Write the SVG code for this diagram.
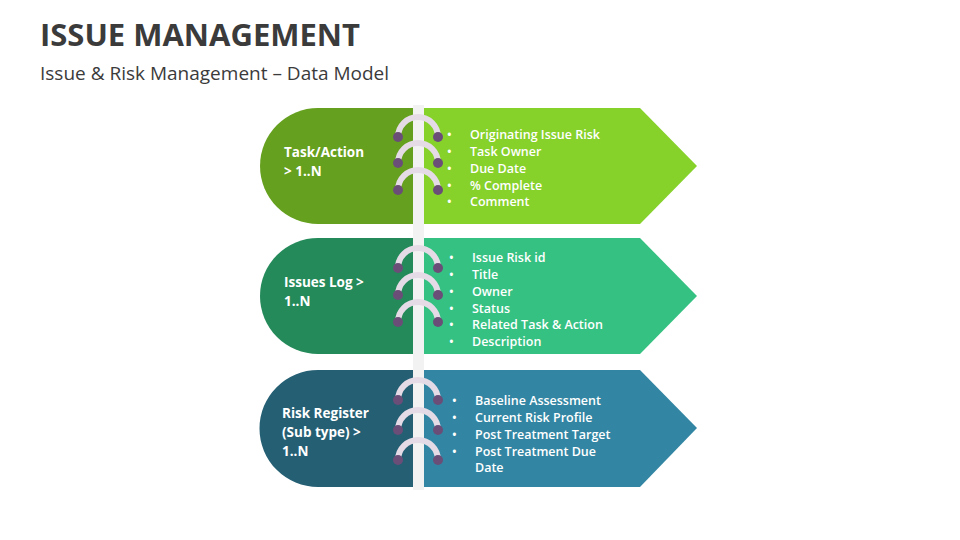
<svg xmlns="http://www.w3.org/2000/svg" width="960" height="540" viewBox="0 0 960 540">
<style>
.t{font-family:"Open Sans","Liberation Sans",sans-serif;fill:#fff;font-weight:600}
.l{font-size:13.5px;font-weight:700}
.b{font-size:12.5px}
.arc{fill:none;stroke:#e5dbe6;stroke-width:6;stroke-linecap:round}
.dot{fill:#6a4e78}
</style>
<defs>
<g id="ring"><path class="arc" d="M-20,0 A20,20 0 0 1 20,0"/><circle class="dot" cx="-20" cy="0" r="5"/><circle class="dot" cx="20" cy="0" r="5"/></g>
</defs>
<rect width="960" height="540" fill="#fff"/>
<text x="40" y="46" font-family="Open Sans,Liberation Sans,sans-serif" font-weight="700" font-size="31" fill="#3b3b3b">ISSUE MANAGEMENT</text>
<text x="40" y="80" font-family="Open Sans,Liberation Sans,sans-serif" font-size="19" fill="#3b3b3b">Issue &amp; Risk Management – Data Model</text>
<rect x="413" y="105" width="11" height="385" fill="#f2f2f2"/>
<g id="row1">
<path d="M413,108 H318 A58,58 0 0 0 318,224 H413 Z" fill="#65a01e"/>
<path d="M424,108 H640 L697,166 L640,224 H424 Z" fill="#86d12a"/>
<text class="t l" x="284" y="157">Task/Action</text><text class="t l" x="284" y="176">&gt; 1..N</text>
<use href="#ring" x="418" y="137"/><use href="#ring" x="418" y="163"/><use href="#ring" x="418" y="190"/>
<g class="t b"><text x="447" y="139">•</text><text x="470" y="139">Originating Issue Risk</text>
<text x="447" y="156">•</text><text x="470" y="156">Task Owner</text>
<text x="447" y="173">•</text><text x="470" y="173">Due Date</text>
<text x="447" y="190">•</text><text x="470" y="190">% Complete</text>
<text x="447" y="206">•</text><text x="470" y="206">Comment</text></g>
</g>
<g id="row2">
<path d="M413,238 H318 A58,58 0 0 0 318,354 H413 Z" fill="#248a5a"/>
<path d="M424,238 H640 L697,296 L640,354 H424 Z" fill="#35c182"/>
<text class="t l" x="284" y="287">Issues Log &gt;</text><text class="t l" x="284" y="306">1..N</text>
<use href="#ring" x="418" y="268"/><use href="#ring" x="418" y="295"/><use href="#ring" x="418" y="322"/>
<g class="t b"><text x="449" y="262">•</text><text x="472" y="262">Issue Risk id</text>
<text x="449" y="279">•</text><text x="472" y="279">Title</text>
<text x="449" y="296">•</text><text x="472" y="296">Owner</text>
<text x="449" y="313">•</text><text x="472" y="313">Status</text>
<text x="449" y="329">•</text><text x="472" y="329">Related Task &amp; Action</text>
<text x="449" y="346">•</text><text x="472" y="346">Description</text></g>
</g>
<g id="row3">
<path d="M413,370 H318 A58.5,58.5 0 0 0 318,487 H413 Z" fill="#255f74"/>
<path d="M424,370 H640 L697,428 L640,487 H424 Z" fill="#3286a3"/>
<text class="t l" x="282" y="418">Risk Register</text><text class="t l" x="282" y="437">(Sub type) &gt;</text><text class="t l" x="282" y="456">1..N</text>
<use href="#ring" x="418" y="400"/><use href="#ring" x="418" y="430"/><use href="#ring" x="418" y="460"/>
<g class="t b"><text x="452" y="405">•</text><text x="475" y="405">Baseline Assessment</text>
<text x="452" y="422">•</text><text x="475" y="422">Current Risk Profile</text>
<text x="452" y="439">•</text><text x="475" y="439">Post Treatment Target</text>
<text x="452" y="456">•</text><text x="475" y="456">Post Treatment Due</text>
<text x="475" y="472">Date</text></g>
</g>
<g id="connectors"/>
</svg>
